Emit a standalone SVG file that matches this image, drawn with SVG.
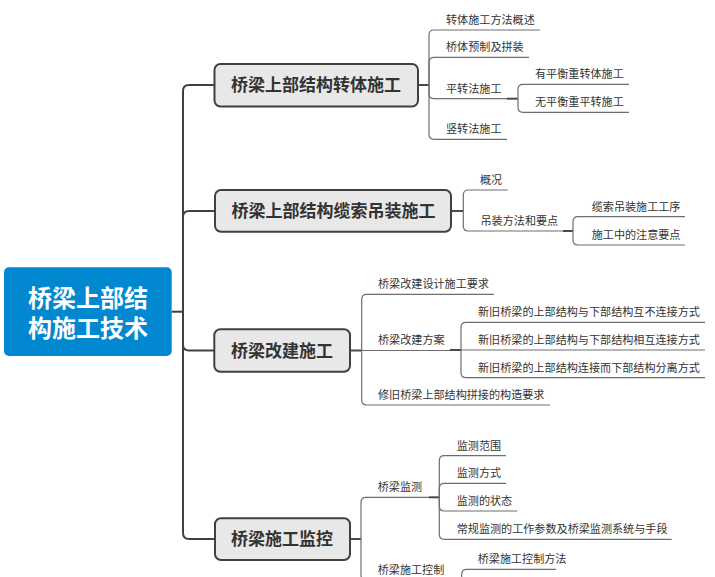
<svg xmlns="http://www.w3.org/2000/svg" width="715" height="577" viewBox="0 0 715 577">
<style>
.main{fill:none;stroke:#404040;stroke-width:2}
.stub{fill:none;stroke:#4a4a4a;stroke-width:2}
.sub{fill:none;stroke:#6e6e6e;stroke-width:1.2}
.box{fill:#e8e8e8;stroke:#404040;stroke-width:2}
.bt{font-family:"Noto Sans CJK SC","Noto Sans",sans-serif;font-size:17px;font-weight:bold;fill:#333}
.t{font-family:"Noto Sans CJK SC","Noto Sans",sans-serif;font-size:11.1px;fill:#333}
.rt{font-family:"Noto Sans CJK SC","Noto Sans",sans-serif;font-size:24px;font-weight:bold;fill:#fff}
</style>
<rect width="715" height="577" fill="#fff"/>
<g id="connectors">
  <path class="main" d="M171.7,311.7 H183"/>
  <path class="main" d="M183,311.7 V91 Q183,85 189,85 H214.5"/>
  <path class="main" d="M183,311.7 V217 Q183,211 189,211 H215"/>
  <path class="main" d="M183,311.7 V344.5 Q183,350.5 189,350.5 H214.3"/>
  <path class="main" d="M183,311.7 V533 Q183,539 189,539 H215"/>
  <path class="stub" d="M418,85 H429"/>
  <path class="sub" d="M429,85 V35 Q429,30 434,30 H540"/>
  <path class="sub" d="M429,85 V62.3 Q429,57.3 434,57.3 H529"/>
  <path class="sub" d="M429,85 V93.7 Q429,98.7 434,98.7 H507"/>
  <path class="sub" d="M429,85 V134.3 Q429,139.3 434,139.3 H507"/>
  <path class="stub" d="M507,98.7 H518"/>
  <path class="sub" d="M518,98.7 V89.3 Q518,84.3 523,84.3 H629"/>
  <path class="sub" d="M518,98.7 V107.3 Q518,112.3 523,112.3 H629"/>
  <path class="stub" d="M451,211 H463.3"/>
  <path class="sub" d="M463.3,211 V195 Q463.3,190 468.3,190 H507.7"/>
  <path class="sub" d="M463.3,211 V226 Q463.3,231 468.3,231 H563"/>
  <path class="stub" d="M563,231 H573"/>
  <path class="sub" d="M573,231 V221.7 Q573,216.7 578,216.7 H685"/>
  <path class="sub" d="M573,231 V240 Q573,245 578,245 H685"/>
  <path class="stub" d="M350,350.5 H361.7"/>
  <path class="sub" d="M361.7,350.5 V299.3 Q361.7,294.3 366.7,294.3 H494"/>
  <path class="sub" d="M361.7,350.5 H450"/>
  <path class="sub" d="M361.7,350.5 V400 Q361.7,405 366.7,405 H550"/>
  <path class="stub" d="M450,350 H461"/>
  <path class="sub" d="M461,350 V327.3 Q461,322.3 466,322.3 H705"/>
  <path class="sub" d="M461,350 H705"/>
  <path class="sub" d="M461,350 V372.7 Q461,377.7 466,377.7 H705"/>
  <path class="stub" d="M350,539 H361"/>
  <path class="sub" d="M361,539 V502.3 Q361,497.3 366,497.3 H429"/>
  <path class="sub" d="M361,539 V575 Q361,580 366,580 H451"/>
  <path class="stub" d="M429,497.3 H439.3"/>
  <path class="sub" d="M439.3,497.3 V460.7 Q439.3,455.7 444.3,455.7 H506"/>
  <path class="sub" d="M439.3,497.3 V488.3 Q439.3,483.3 444.3,483.3 H506"/>
  <path class="sub" d="M439.3,497.3 V506 Q439.3,511 444.3,511 H517.3"/>
  <path class="sub" d="M439.3,497.3 V534.3 Q439.3,539.3 444.3,539.3 H671.7"/>
  <path class="stub" d="M451,580 H461.7"/>
  <path class="sub" d="M461.7,580 V574.3 Q461.7,569.3 466.7,569.3 H556"/>
</g>
<g id="root">
  <rect x="4" y="267.3" width="167.7" height="88.7" rx="5" fill="#0288d1"/>
  <text class="rt" x="28" y="306.5">桥梁上部结<tspan x="28" y="336.5">构施工技术</tspan></text>
</g>
<g id="b1">
  <rect class="box" x="214.5" y="64" width="203.5" height="42.5" rx="6"/>
  <text class="bt" x="231" y="91.3">桥梁上部结构转体施工</text>
</g>
<g id="b1-c"><text class="t" x="446" y="24">转体施工方法概述</text></g>
<g id="b1-p"><text class="t" x="446" y="51.3">桥体预制及拼装</text></g>
<g id="b1-h"><text class="t" x="446" y="92.7">平转法施工</text></g>
<g id="b1-h1"><text class="t" x="535" y="78.3">有平衡重转体施工</text></g>
<g id="b1-h2"><text class="t" x="535" y="106.3">无平衡重平转施工</text></g>
<g id="b1-v"><text class="t" x="446" y="133.3">竖转法施工</text></g>
<g id="b2">
  <rect class="box" x="215" y="190" width="236" height="41.7" rx="6"/>
  <text class="bt" x="231.5" y="217">桥梁上部结构缆索吊装施工</text>
</g>
<g id="b2-o"><text class="t" x="480" y="184">概况</text></g>
<g id="b2-m"><text class="t" x="480.5" y="225">吊装方法和要点</text></g>
<g id="b2-m1"><text class="t" x="591.7" y="210.7">缆索吊装施工工序</text></g>
<g id="b2-m2"><text class="t" x="591.7" y="239">施工中的注意要点</text></g>
<g id="b3">
  <rect class="box" x="214.3" y="329.3" width="135.7" height="42.4" rx="6"/>
  <text class="bt" x="231" y="356.5">桥梁改建施工</text>
</g>
<g id="b3-r"><text class="t" x="378" y="288.3">桥梁改建设计施工要求</text></g>
<g id="b3-s"><text class="t" x="378" y="344">桥梁改建方案</text></g>
<g id="b3-s1"><text class="t" x="478" y="316.3">新旧桥梁的上部结构与下部结构互不连接方式</text></g>
<g id="b3-s2"><text class="t" x="478" y="344">新旧桥梁的上部结构与下部结构相互连接方式</text></g>
<g id="b3-s3"><text class="t" x="478" y="371.7">新旧桥梁的上部结构连接而下部结构分离方式</text></g>
<g id="b3-j"><text class="t" x="378" y="399">修旧桥梁上部结构拼接的构造要求</text></g>
<g id="b4">
  <rect class="box" x="215" y="518.3" width="135" height="41.7" rx="6"/>
  <text class="bt" x="231" y="545.3">桥梁施工监控</text>
</g>
<g id="b4-m"><text class="t" x="377.7" y="491.3">桥梁监测</text></g>
<g id="b4-m1"><text class="t" x="456.7" y="449.7">监测范围</text></g>
<g id="b4-m2"><text class="t" x="456.7" y="477.3">监测方式</text></g>
<g id="b4-m3"><text class="t" x="456.7" y="505">监测的状态</text></g>
<g id="b4-m4"><text class="t" x="456.7" y="533.3">常规监测的工作参数及桥梁监测系统与手段</text></g>
<g id="b4-c"><text class="t" x="377.7" y="574">桥梁施工控制</text></g>
<g id="b4-c1"><text class="t" x="477.7" y="563.3">桥梁施工控制方法</text></g>
</svg>
